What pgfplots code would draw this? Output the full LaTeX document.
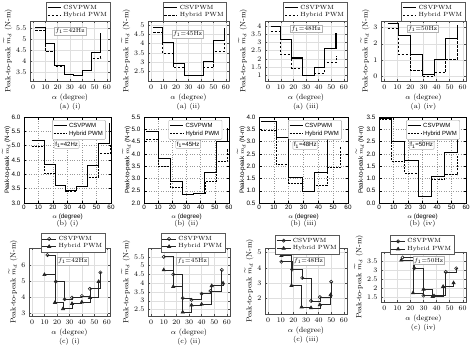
\documentclass[border=0pt]{standalone}
\usepackage{pgfplots}
\pgfplotsset{compat=1.18}
\usepackage{fontspec}
\newfontfamily\bsans{Liberation Sans}
\pgfplotsset{
  every axis/.append style={scale only axis, anchor=south west},
  fr/.style n args={4}{at={(#1pt,#2pt)},width=#3pt,height=#4pt},
  rowA/.style={
    xmin=-2.5,xmax=62.5, xtick={0,10,20,30,40,50,60},
    grid=major, major grid style={gray!25,line width=0.4pt},
    axis line style={gray!60!black, line width=0.5pt},
    tick style={gray!60!black, line width=0.4pt}, major tick length=2pt,
    tick label style={font=\fontsize{7}{8}\selectfont},
    ylabel={Peak-to-peak $\widetilde{m}_d$ (N-m)},
    label style={font=\fontsize{7.5}{9}\selectfont},
    xlabel style={align=center, yshift=2pt},
    ylabel style={yshift=-3pt},
    legend cell align=left,
    legend style={font=\fontsize{6}{7}\selectfont, draw=gray!70!black, inner sep=0.8pt, row sep=-2pt, anchor=north east},
    legend image code/.code={\draw[#1] (0pt,0pt) -- (13pt,0pt);},
  },
  rowB/.style={
    xmin=0,xmax=60, xtick={0,10,20,30,40,50,60}, xticklabels={0,10,20,30,40,50,60},
    grid=major, major grid style={dotted, gray!80, line width=0.4pt},
    axis line style={black, line width=0.6pt},
    tick style={black, line width=0.4pt}, major tick length=2.5pt,
    tick label style={font=\bsans\fontsize{6.3}{7}\selectfont},
    xticklabel style={yshift=1pt},
    label style={font=\bsans\fontsize{6.3}{7}\selectfont},
    ylabel={Peak-to-peak $\widetilde{m}_d$ (N-m)},
    xlabel style={align=center, yshift=3pt},
    ylabel style={at={(axis description cs:-0.2,0.5)}, anchor=center, rotate=0},
    legend cell align=left,
    legend style={font=\bsans\fontsize{6}{7}\selectfont, draw=gray!70, rounded corners=1pt, inner sep=0.8pt, row sep=-2pt, anchor=north east},
    legend image code/.code={\draw[#1] (0pt,0pt) -- (13pt,0pt);},
  },
  rowC/.style={
    rowA,
    legend image code/.code={\draw[#1, mark repeat=2, mark phase=2] plot coordinates {(0pt,0pt) (7pt,0pt) (14pt,0pt)};},
  },
  csv/.style={black, line width=1.1pt, const plot, mark=none},
  hyb/.style={black, line width=0.9pt, dash pattern=on 2.5pt off 1.5pt, const plot, mark=none},
  csvB/.style={black, line width=1.0pt, const plot, mark=none},
  hybB/.style={black, line width=0.8pt, dash pattern=on 2pt off 1.2pt, const plot, mark=none},
  csvC/.style={black!85, line width=0.7pt, const plot, mark=o, mark size=1.6pt, mark options={solid, line width=0.6pt, fill=white}},
  hybC/.style={black!85, line width=0.7pt, const plot, mark=triangle*, mark size=1.8pt, mark options={solid}},
}
\tikzset{
  fboxA/.style={draw=gray!60, fill=white, font=\fontsize{6}{7}\selectfont, inner sep=1.2pt},
  fboxB/.style={draw=gray!60, fill=white, rounded corners=1pt, font=\bsans\fontsize{6}{7}\selectfont, inner sep=1.2pt},
}
\begin{document}
\begin{tikzpicture}[x=1pt,y=1pt]
\useasboundingbox (0,0) rectangle (474,354);

% ---------------- Row (a) ----------------
\begin{axis}[rowA, fr={30}{273}{80}{60}, ymin=3.1, ymax=5.85, ytick={3.5,4,4.5,5,5.5},
  xlabel={$\alpha$ (degree)\\{\fontsize{7}{8}\selectfont (a) (i)}}, legend style={at={(1,1.317)}}]
\addplot[csv] coordinates {(1.6,5.55) (10.3,4.8) (17.3,3.8) (25.4,3.4) (32.7,3.35) (40.3,3.6) (47.6,4.4) (55.1,5.3)};
\addlegendentry{CSVPWM}
\addplot[hyb] coordinates {(1.6,5.4) (10.3,4.45) (17.3,3.78) (25.4,3.4) (32.7,3.35) (40.3,3.6) (47.6,4.15) (55.1,4.3)};
\addlegendentry{Hybrid PWM}
\node[fboxA] at (rel axis cs:0.5,0.83) {$f_1$=42Hz};
\end{axis}

\begin{axis}[rowA, fr={148}{273}{81}{60}, ymin=2.0, ymax=5.2, ytick={2.5,3,3.5,4,4.5,5},
  xlabel={$\alpha$ (degree)\\{\fontsize{7}{8}\selectfont (a) (ii)}}, legend style={at={(0.97,1.317)}}]
\addplot[csv] coordinates {(1.9,4.85) (9.4,4.05) (18,2.95) (26.6,2.3) (42.2,3.05) (50.2,4.15) (58.8,4.85)};
\addlegendentry{CSVPWM}
\addplot[hyb] coordinates {(1.9,4.6) (9.4,3.45) (18,2.7) (26.6,2.3) (42.2,2.7) (50.2,3.55) (58.8,4.05)};
\addlegendentry{Hybrid PWM}
\node[fboxA] at (rel axis cs:0.49,0.78) {$f_1$=45Hz};
\end{axis}

\begin{axis}[rowA, fr={265}{273}{82}{60}, ymin=0.65, ymax=4.3, ytick={1,1.5,2,2.5,3,3.5,4},
  xlabel={$\alpha$ (degree)\\{\fontsize{7}{8}\selectfont (a) (iii)}}, legend style={at={(1,1.317)}}]
\addplot[csv] coordinates {(2.1,3.95) (10.1,3.2) (18.6,2.05) (27.2,1.0) (36.5,1.45) (44.5,2.65) (53.8,3.6)};
\addlegendentry{CSVPWM}
\addplot[hyb] coordinates {(2.1,3.65) (10.1,2.25) (18.6,1.4) (27.2,1.0) (36.5,1.1) (44.5,1.75) (53.8,2.2)};
\addlegendentry{Hybrid PWM}
\node[fboxA] at (rel axis cs:0.5,0.87) {$f_1$=48Hz};
\end{axis}

\begin{axis}[rowA, fr={381}{273}{85}{60}, ymin=-0.3, ymax=3.4, ytick={0,1,2,3},
  xlabel={$\alpha$ (degree)\\{\fontsize{7}{8}\selectfont (a) (iv)}}, legend style={at={(0.99,1.317)}}]
\addplot[csv] coordinates {(2.5,3.25) (10.7,2.5) (20.3,1.35) (29.2,0.1) (38.2,1.05) (47,2.3) (56,3.15)};
\addlegendentry{CSVPWM}
\addplot[hyb] coordinates {(2.5,2.95) (10.7,1.35) (20.3,0.35) (29.2,-0.05) (38.2,0.2) (47,1.05) (56,2.5)};
\addlegendentry{Hybrid PWM}
\node[fboxA] at (rel axis cs:0.49,0.87) {$f_1$=50Hz};
\end{axis}

% ---------------- Row (b) ----------------
\begin{axis}[rowB, fr={24}{151}{87}{86}, ymin=3, ymax=6, ytick={3,3.5,4,4.5,5,5.5,6},
  yticklabels={3.0,3.5,4.0,4.5,5.0,5.5,6.0},
  ylabel style={at={(axis description cs:-0.205,0.5)}},
  xlabel={$\alpha$ (degree)\\{\rmfamily\fontsize{7}{8}\selectfont (b) (i)}}, legend style={at={(0.94,0.965)}}]
\addplot[csvB] coordinates {(5.3,5.17) (13.8,4.35) (21.4,3.6) (28.7,3.42) (36.3,3.58) (43.7,4.3) (51.3,5.08) (59.3,5.8)};
\addlegendentry{CSVPWM}
\addplot[hybB] coordinates {(5.3,4.97) (13.8,4.05) (21.4,3.6) (28.7,3.42) (36.3,3.58) (43.7,3.9) (51.3,4.72) (59.3,5.05)};
\addlegendentry{Hybrid PWM}
\node[fboxB] at (rel axis cs:0.49,0.68) {f\textsubscript{1}=42Hz};
\end{axis}

\begin{axis}[rowB, fr={144}{151}{85}{86}, ymin=2, ymax=5.5, ytick={2,2.5,3,3.5,4,4.5,5,5.5},
  yticklabels={2.0,2.5,3.0,3.5,4.0,4.5,5.0,5.5},
  ylabel style={at={(axis description cs:-0.205,0.5)}},
  xlabel={$\alpha$ (degree)\\{\rmfamily\fontsize{7}{8}\selectfont (b) (ii)}}, legend style={at={(0.92,0.965)}}]
\addplot[csvB] coordinates {(1.5,4.93) (10,3.83) (18.5,2.88) (27,2.33) (35,2.38) (43,3.25) (51,4.52) (59,5.05)};
\addlegendentry{CSVPWM}
\addplot[hybB] coordinates {(1.5,4.57) (10,3.48) (18.5,2.62) (27,2.33) (35,2.38) (43,2.87) (51,3.68) (59,4.2)};
\addlegendentry{Hybrid PWM}
\node[fboxB] at (rel axis cs:0.52,0.68) {f\textsubscript{1}=45Hz};
\end{axis}

\begin{axis}[rowB, fr={259}{151}{89}{86}, ymin=0.5, ymax=4, ytick={0.5,1,1.5,2,2.5,3,3.5,4},
  yticklabels={0.5,1.0,1.5,2.0,2.5,3.0,3.5,4.0},
  ylabel style={at={(axis description cs:-0.2,0.5)}},
  xlabel={$\alpha$ (degree)\\{\rmfamily\fontsize{7}{8}\selectfont (b) (iii)}}, legend style={at={(0.93,0.965)}}]
\addplot[csvB] coordinates {(1.5,3.82) (11.5,3.15) (20.1,1.55) (29.1,0.98) (37.4,1.75) (46,3.2) (55,3.82)};
\addlegendentry{CSVPWM}
\addplot[hybB] coordinates {(1.5,3.47) (11.5,2.08) (20.1,1.28) (29.1,0.98) (37.4,1.22) (46,1.95) (55,2.8)};
\addlegendentry{Hybrid PWM}
\node[fboxB] at (rel axis cs:0.52,0.67) {f\textsubscript{1}=48Hz};
\end{axis}

\begin{axis}[rowB, fr={379}{151}{87}{86}, ymin=0, ymax=3.5, ytick={0,0.5,1,1.5,2,2.5,3,3.5},
  yticklabels={0.0,0.5,1.0,1.5,2.0,2.5,3.0,3.5},
  ylabel style={at={(axis description cs:-0.22,0.5)}},
  xlabel={$\alpha$ (degree)\\{\rmfamily\fontsize{7}{8}\selectfont (b) (iv)}}, legend style={at={(0.93,0.965)}}]
\addplot[csvB] coordinates {(0,3.42) (8.7,2.52) (17.8,1.73) (27.4,0.28) (36,1.07) (45.2,2.05) (54.1,3.25)};
\addlegendentry{CSVPWM}
\addplot[hybB] coordinates {(0,3.4) (8.7,1.7) (17.8,1.2) (27.4,0.25) (36,0.97) (45.2,1.15) (54.1,1.95)};
\addlegendentry{Hybrid PWM}
\node[fboxB] at (rel axis cs:0.49,0.67) {f\textsubscript{1}=50Hz};
\end{axis}

% ---------------- Row (c) ----------------
\begin{axis}[rowC, fr={29}{38}{81}{68}, ymin=2.85, ymax=7.1, ytick={3,4,5,6},
  xlabel={$\alpha$ (degree)\\{\fontsize{7}{8}\selectfont (c) (i)}}, legend style={at={(0.94,1.22)}}]
\addplot[csvC] coordinates {(12.3,6.66) (19,5.0) (26.1,3.9) (32,4.0) (39.9,4.1) (46.4,4.55) (54.8,5.57)};
\addlegendentry{CSVPWM}
\addplot[hybC] coordinates {(9.9,5.43) (18.3,3.69) (24.8,3.3) (32,3.62) (39.9,3.72) (46.4,4.0) (53.4,5.0)};
\addlegendentry{Hybrid PWM}
\node[fboxA] at (rel axis cs:0.54,0.81) {$f_1$=42Hz};
\end{axis}

\begin{axis}[rowC, fr={148}{38}{82}{68}, ymin=2.13, ymax=6.0, ytick={2.5,3,3.5,4,4.5,5,5.5},
  xlabel={$\alpha$ (degree)\\{\fontsize{7}{8}\selectfont (c) (ii)}}, legend style={at={(0.94,1.22)}}]
\addplot[csvC] coordinates {(10,5.5) (17.5,4.5) (25,3.15) (32,3.05) (40,3.4) (47,3.55) (56,4.75)};
\addlegendentry{CSVPWM}
\addplot[hybC] coordinates {(10,4.75) (17.5,3.8) (25,2.35) (32,2.75) (40,2.8) (48,3.85) (57,4.0)};
\addlegendentry{Hybrid PWM}
\node[fboxA] at (rel axis cs:0.54,0.81) {$f_1$=45Hz};
\end{axis}

\begin{axis}[rowC, fr={265}{40}{82}{66}, ymin=1.0, ymax=5.3, ytick={2,3,4,5},
  xlabel={$\alpha$ (degree)\\{\fontsize{7}{8}\selectfont (c) (iii)}}, legend style={at={(0.91,1.2)}}]
\addplot[csvC] coordinates {(10.5,4.4) (19,3.9) (27,3.35) (34,1.85) (41,2.1) (50,3.1)};
\addlegendentry{CSVPWM}
\addplot[hybC] coordinates {(10.5,4.8) (18.5,2.85) (26.5,1.45) (34,1.4) (41,1.6) (49.5,2.25)};
\addlegendentry{Hybrid PWM}
\node[fboxA] at (rel axis cs:0.53,0.8) {$f_1$=48Hz};
\end{axis}

\begin{axis}[rowC, fr={381}{52}{85}{50}, ymin=1.25, ymax=4.0, ytick={1.5,2,2.5,3,3.5},
  xlabel={$\alpha$ (degree)\\{\fontsize{7}{8}\selectfont (c) (iv)}}, legend style={at={(0.86,1.33)}}]
\addplot[csvC] coordinates {(14,3.7) (23,3.1) (30,1.6) (38,1.6) (47,2.9) (55,3.1)};
\addlegendentry{CSVPWM}
\addplot[hybC] coordinates {(13,3.55) (22,1.75) (30,1.95) (37,1.55) (45,2.1) (53,2.3)};
\addlegendentry{Hybrid PWM}
\node[fboxA] at (rel axis cs:0.56,0.83) {$f_1$=50Hz};
\end{axis}
\end{tikzpicture}
\end{document}
